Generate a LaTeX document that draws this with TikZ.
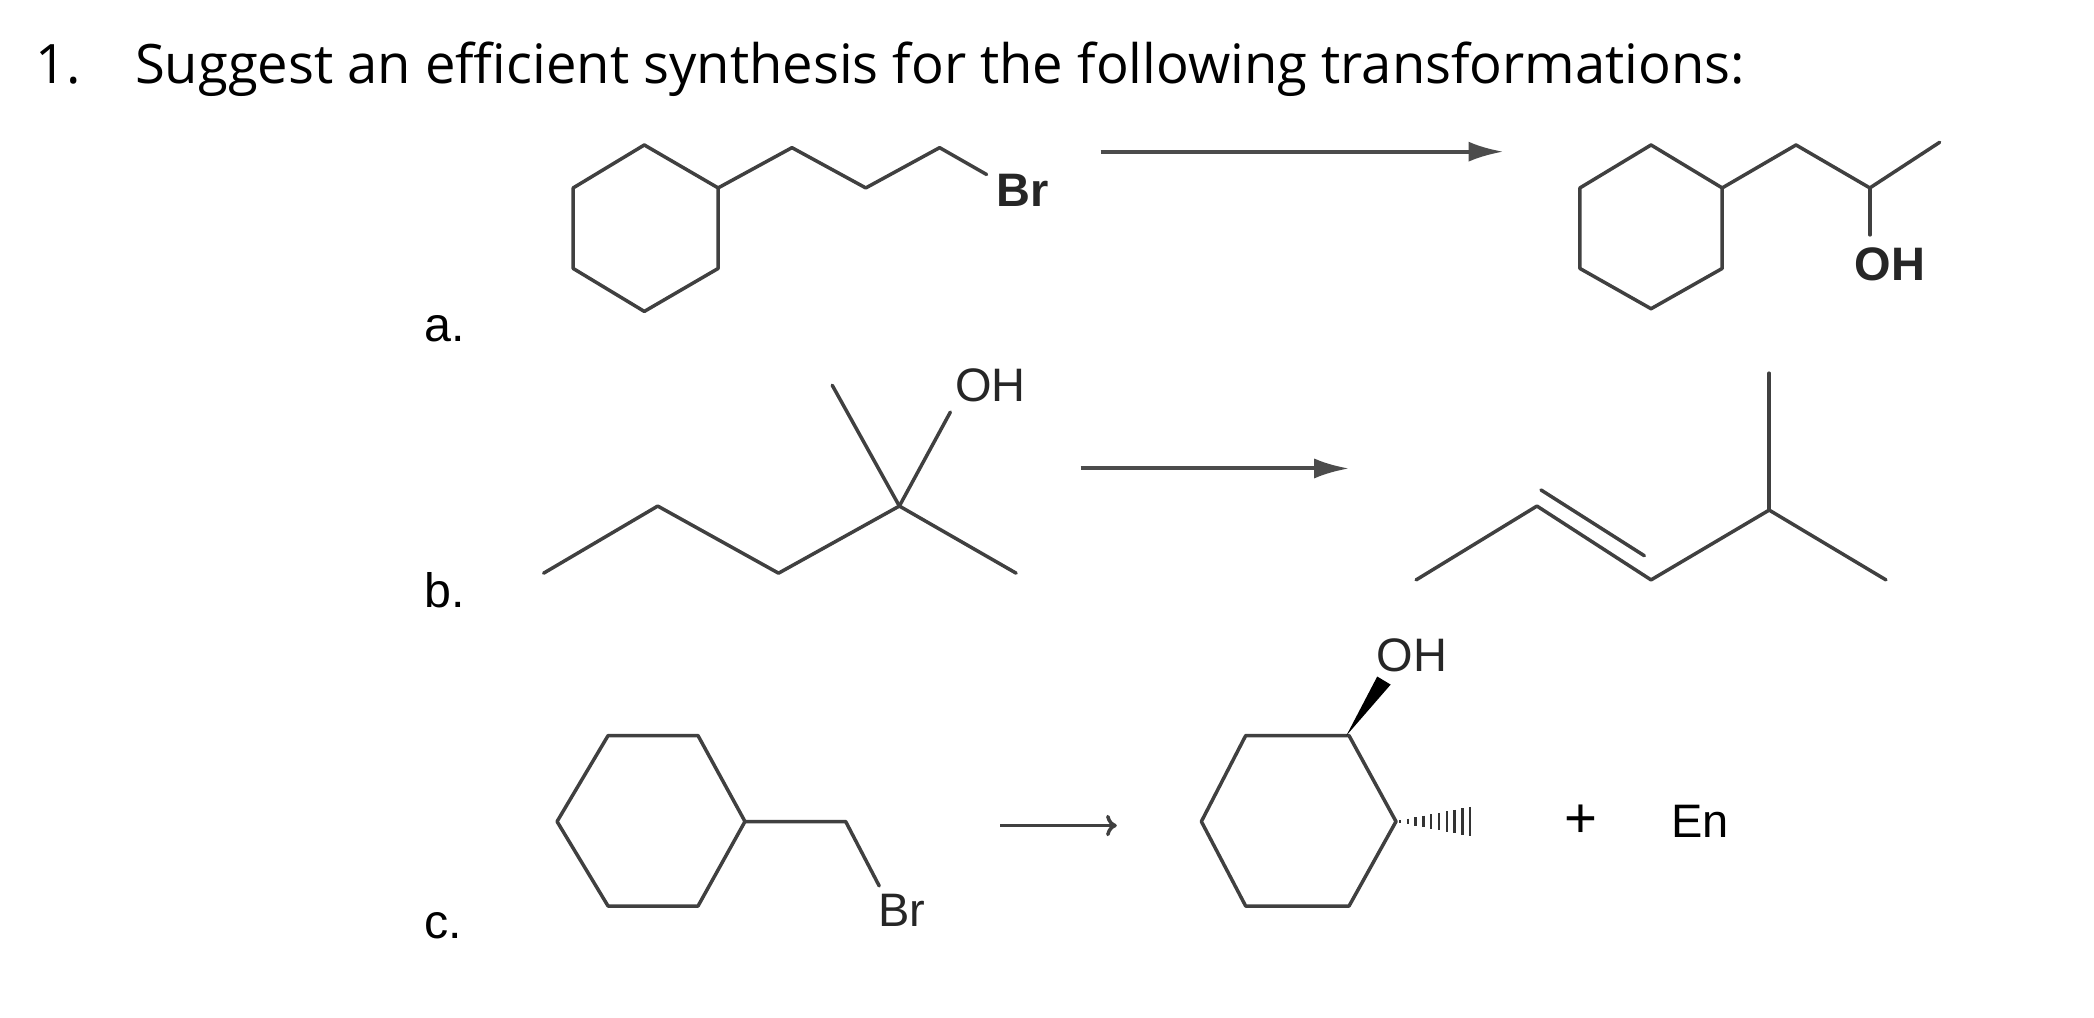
\documentclass[tikz,border=0pt]{standalone}
\usepackage{fontspec}
\setmainfont{Liberation Sans}
\newfontfamily\titlefont{Open Sans}
\usetikzlibrary{arrows.meta}
\begin{document}
\begin{tikzpicture}[x=1pt,y=-1pt,
  bond/.style={line width=2.6pt,draw=black!75,line join=round,line cap=round},
  atom/.style={font=\fontsize{35}{35}\selectfont\bfseries,text=black!85,inner sep=0pt},
  lbl/.style={font=\fontsize{36}{36}\selectfont,inner sep=0pt,anchor=west},
  rxn/.style={line width=3pt,draw=black!70,-{Latex[length=26pt,width=15pt]}}]
\useasboundingbox (0,0) rectangle (1560,758);
\node[lbl,anchor=base west] (title) at (26,62) {\titlefont\fontsize{40.5}{40.5}\selectfont 1.\hspace{1.0em}Suggest an efficient synthesis for the following transformations:};
\node[lbl] (la) at (316,245) {a.};
\node[lbl] (lb) at (316,440) {b.};
\node[lbl] (lc) at (316,690) {c.};
% a reactant
\draw[bond] (480,108)--(535,140)--(535,200)--(480,232)--(427,200)--(427,140)--cycle;
\draw[bond] (535,140)--(590,110)--(645,140)--(700,110)--(735,130);
\node[atom] (br1) at (762,142) {Br};
\coordinate (a1) at (820,113); \coordinate (a2) at (1120,113);
\draw[rxn] (a1)--(a2);
% a product
\draw[bond] (1230,108)--(1283,140)--(1283,200)--(1230,230)--(1177,200)--(1177,140)--cycle;
\draw[bond] (1283,140)--(1338,108)--(1393,140)--(1445,106);
\draw[bond] (1393,140)--(1393,175);
\node[atom] (oh1) at (1408,197) {OH};
% b reactant
\draw[bond] (405,427)--(490,377)--(580,427)--(670,377)--(757,427);
\draw[bond] (670,377)--(620,287);
\draw[bond] (670,377)--(708,307);
\node[atom,font=\fontsize{35}{35}\selectfont] (oh2) at (738,287) {OH};
\coordinate (b1) at (805,349); \coordinate (b2) at (1005,349);
\draw[rxn] (b1)--(b2);
% b product
\draw[bond] (1055,432)--(1145,377)--(1230,432)--(1318,380)--(1405,432);
\draw[bond] (1318,380)--(1318,278);
\draw[bond] (1148,365)--(1225,414);
% c reactant
\draw[bond] (453,548)--(520,548)--(555,612)--(520,675)--(453,675)--(415,612)--cycle;
\draw[bond] (555,612)--(630,612)--(655,660);
\node[atom,font=\fontsize{35}{35}\selectfont] (br2) at (672,678) {Br};
\coordinate (c1) at (745,615); \coordinate (c2) at (832,615);
\draw[line width=2.6pt,draw=black!75,-{To[length=8pt,width=16pt]}] (c1)--(c2);
% c product
\draw[bond] (928,548)--(1005,548)--(1040,612)--(1005,675)--(928,675)--(895,612)--cycle;
\fill[black] (1003,548)--(1026,504)--(1036,510)--cycle;
\node[atom,font=\fontsize{35}{35}\selectfont] (oh3) at (1052,488) {OH};
\foreach \i in {0,...,9}{
  \draw[line width=1.8pt,black!80] (1043+\i*5.8,612-1-\i*1.1)--(1043+\i*5.8,612+1+\i*1.1);}
\node[lbl,font=\fontsize{42}{42}\selectfont] (plus) at (1165,612) {+};
\node[lbl,font=\fontsize{35}{35}\selectfont] (en) at (1245,612) {En};
\end{tikzpicture}
\end{document}
